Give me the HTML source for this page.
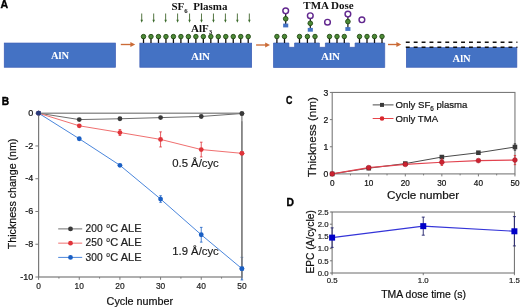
<!DOCTYPE html>
<html><head><meta charset="utf-8"><title>Figure</title>
<style>html,body{margin:0;padding:0;background:#fff;overflow:hidden}svg{display:block}</style>
</head><body>
<svg width="520" height="308" viewBox="0 0 520 308">
<rect width="520" height="308" fill="#fff"/>
<text x="0.4" y="7.8" style='font-family:"Liberation Sans", Arial, sans-serif;font-weight:bold;font-size:10.5px' fill="#000" stroke="#000" stroke-width="0.35">A</text>
<rect x="4.25" y="43.050000000000004" width="111.20" height="24.20" fill="#4472C4" stroke="#3A5BB5" stroke-width="0.7"/>
<text x="60" y="59.3" text-anchor="middle" style='font-family:"Liberation Serif", "Times New Roman", serif;font-weight:bold;font-size:10.5px' fill="#fff">AlN</text>
<line x1="120.8" y1="44.5" x2="131.7" y2="44.5" stroke="#CB6B36" stroke-width="1.35"/>
<path d="M130.39999999999998,42.1 L135.2,44.5 L130.39999999999998,46.9 Z" fill="#CB6B36"/>
<rect x="139.85" y="43.15" width="111.80" height="24.10" fill="#4472C4" stroke="#3A5BB5" stroke-width="0.7"/>
<text x="200.5" y="59.9" text-anchor="middle" style='font-family:"Liberation Serif", "Times New Roman", serif;font-weight:bold;font-size:11px' fill="#fff">AlN</text>
<line x1="143.5" y1="36.6" x2="143.5" y2="43" stroke="#111" stroke-width="1.3"/>
<circle cx="143.5" cy="36.6" r="2.25" fill="#4C8A36" stroke="#224A14" stroke-width="0.9"/>
<line x1="150.98" y1="36.6" x2="150.98" y2="43" stroke="#111" stroke-width="1.3"/>
<circle cx="150.98" cy="36.6" r="2.25" fill="#4C8A36" stroke="#224A14" stroke-width="0.9"/>
<line x1="158.46" y1="36.6" x2="158.46" y2="43" stroke="#111" stroke-width="1.3"/>
<circle cx="158.46" cy="36.6" r="2.25" fill="#4C8A36" stroke="#224A14" stroke-width="0.9"/>
<line x1="165.94" y1="36.6" x2="165.94" y2="43" stroke="#111" stroke-width="1.3"/>
<circle cx="165.94" cy="36.6" r="2.25" fill="#4C8A36" stroke="#224A14" stroke-width="0.9"/>
<line x1="173.42" y1="36.6" x2="173.42" y2="43" stroke="#111" stroke-width="1.3"/>
<circle cx="173.42" cy="36.6" r="2.25" fill="#4C8A36" stroke="#224A14" stroke-width="0.9"/>
<line x1="180.9" y1="36.6" x2="180.9" y2="43" stroke="#111" stroke-width="1.3"/>
<circle cx="180.9" cy="36.6" r="2.25" fill="#4C8A36" stroke="#224A14" stroke-width="0.9"/>
<line x1="188.38" y1="36.6" x2="188.38" y2="43" stroke="#111" stroke-width="1.3"/>
<circle cx="188.38" cy="36.6" r="2.25" fill="#4C8A36" stroke="#224A14" stroke-width="0.9"/>
<line x1="195.86" y1="36.6" x2="195.86" y2="43" stroke="#111" stroke-width="1.3"/>
<circle cx="195.86" cy="36.6" r="2.25" fill="#4C8A36" stroke="#224A14" stroke-width="0.9"/>
<line x1="203.34" y1="36.6" x2="203.34" y2="43" stroke="#111" stroke-width="1.3"/>
<circle cx="203.34" cy="36.6" r="2.25" fill="#4C8A36" stroke="#224A14" stroke-width="0.9"/>
<line x1="210.82" y1="36.6" x2="210.82" y2="43" stroke="#111" stroke-width="1.3"/>
<circle cx="210.82" cy="36.6" r="2.25" fill="#4C8A36" stroke="#224A14" stroke-width="0.9"/>
<line x1="218.3" y1="36.6" x2="218.3" y2="43" stroke="#111" stroke-width="1.3"/>
<circle cx="218.3" cy="36.6" r="2.25" fill="#4C8A36" stroke="#224A14" stroke-width="0.9"/>
<line x1="225.78" y1="36.6" x2="225.78" y2="43" stroke="#111" stroke-width="1.3"/>
<circle cx="225.78" cy="36.6" r="2.25" fill="#4C8A36" stroke="#224A14" stroke-width="0.9"/>
<line x1="233.26" y1="36.6" x2="233.26" y2="43" stroke="#111" stroke-width="1.3"/>
<circle cx="233.26" cy="36.6" r="2.25" fill="#4C8A36" stroke="#224A14" stroke-width="0.9"/>
<line x1="240.74" y1="36.6" x2="240.74" y2="43" stroke="#111" stroke-width="1.3"/>
<circle cx="240.74" cy="36.6" r="2.25" fill="#4C8A36" stroke="#224A14" stroke-width="0.9"/>
<line x1="248.22" y1="36.6" x2="248.22" y2="43" stroke="#111" stroke-width="1.3"/>
<circle cx="248.22" cy="36.6" r="2.25" fill="#4C8A36" stroke="#224A14" stroke-width="0.9"/>
<line x1="141.7" y1="13.5" x2="141.7" y2="20.6" stroke="#5d7d4c" stroke-width="1.05"/>
<path d="M140.45,19.8 L141.7,22.7 L142.95,19.8 Z" fill="#3a6a2a"/>
<line x1="153.66" y1="13.5" x2="153.66" y2="20.6" stroke="#5d7d4c" stroke-width="1.05"/>
<path d="M152.41,19.8 L153.66,22.7 L154.91,19.8 Z" fill="#3a6a2a"/>
<line x1="165.62" y1="13.5" x2="165.62" y2="20.6" stroke="#5d7d4c" stroke-width="1.05"/>
<path d="M164.37,19.8 L165.62,22.7 L166.87,19.8 Z" fill="#3a6a2a"/>
<line x1="177.58" y1="13.5" x2="177.58" y2="20.6" stroke="#5d7d4c" stroke-width="1.05"/>
<path d="M176.33,19.8 L177.58,22.7 L178.83,19.8 Z" fill="#3a6a2a"/>
<line x1="189.54" y1="13.5" x2="189.54" y2="20.6" stroke="#5d7d4c" stroke-width="1.05"/>
<path d="M188.29,19.8 L189.54,22.7 L190.79,19.8 Z" fill="#3a6a2a"/>
<line x1="201.5" y1="13.5" x2="201.5" y2="20.6" stroke="#5d7d4c" stroke-width="1.05"/>
<path d="M200.25,19.8 L201.5,22.7 L202.75,19.8 Z" fill="#3a6a2a"/>
<line x1="213.46" y1="13.5" x2="213.46" y2="20.6" stroke="#5d7d4c" stroke-width="1.05"/>
<path d="M212.21,19.8 L213.46,22.7 L214.71,19.8 Z" fill="#3a6a2a"/>
<line x1="225.42" y1="13.5" x2="225.42" y2="20.6" stroke="#5d7d4c" stroke-width="1.05"/>
<path d="M224.17,19.8 L225.42,22.7 L226.67,19.8 Z" fill="#3a6a2a"/>
<line x1="237.38" y1="13.5" x2="237.38" y2="20.6" stroke="#5d7d4c" stroke-width="1.05"/>
<path d="M236.13,19.8 L237.38,22.7 L238.63,19.8 Z" fill="#3a6a2a"/>
<line x1="249.34" y1="13.5" x2="249.34" y2="20.6" stroke="#5d7d4c" stroke-width="1.05"/>
<path d="M248.09,19.8 L249.34,22.7 L250.59,19.8 Z" fill="#3a6a2a"/>
<text x="171.4" y="9.6" style='font-family:"Liberation Serif", "Times New Roman", serif;font-weight:bold;font-size:11px' fill="#111">SF<tspan font-size="6.8" dy="3.0">6</tspan><tspan dy="-3.0" dx="5.6">Plasma</tspan></text>
<text x="191.0" y="31.6" style='font-family:"Liberation Serif", "Times New Roman", serif;font-weight:bold;font-size:11px' fill="#111">AlF<tspan font-size="6.8" dy="2">3</tspan></text>
<line x1="256.1" y1="45" x2="266.5" y2="45" stroke="#CB6B36" stroke-width="1.35"/>
<path d="M265.2,42.6 L270,45 L265.2,47.4 Z" fill="#CB6B36"/>
<path d="M273.5,43 L288.9,43 L288.9,47.3 L294.6,47.3 L294.6,43 L319.4,43 L319.4,47.3 L325.4,47.3 L325.4,43 L349.4,43 L349.4,47.3 L355.1,47.3 L355.1,43 L384.7,43 L384.7,67.5 L273.5,67.5 Z" fill="#4472C4" stroke="#3A5BB5" stroke-width="0.7" stroke-linejoin="miter"/>
<text x="330.6" y="59.9" text-anchor="middle" style='font-family:"Liberation Serif", "Times New Roman", serif;font-weight:bold;font-size:11px' fill="#fff">AlN</text>
<line x1="276.9" y1="36.5" x2="276.9" y2="43" stroke="#111" stroke-width="1.3"/>
<circle cx="276.9" cy="36.5" r="2.25" fill="#4C8A36" stroke="#224A14" stroke-width="0.9"/>
<line x1="284.5" y1="36.5" x2="284.5" y2="43" stroke="#111" stroke-width="1.3"/>
<circle cx="284.5" cy="36.5" r="2.25" fill="#4C8A36" stroke="#224A14" stroke-width="0.9"/>
<line x1="299.5" y1="36.5" x2="299.5" y2="43" stroke="#111" stroke-width="1.3"/>
<circle cx="299.5" cy="36.5" r="2.25" fill="#4C8A36" stroke="#224A14" stroke-width="0.9"/>
<line x1="307.4" y1="36.5" x2="307.4" y2="43" stroke="#111" stroke-width="1.3"/>
<circle cx="307.4" cy="36.5" r="2.25" fill="#4C8A36" stroke="#224A14" stroke-width="0.9"/>
<line x1="315.0" y1="36.5" x2="315.0" y2="43" stroke="#111" stroke-width="1.3"/>
<circle cx="315.0" cy="36.5" r="2.25" fill="#4C8A36" stroke="#224A14" stroke-width="0.9"/>
<line x1="329.5" y1="36.5" x2="329.5" y2="43" stroke="#111" stroke-width="1.3"/>
<circle cx="329.5" cy="36.5" r="2.25" fill="#4C8A36" stroke="#224A14" stroke-width="0.9"/>
<line x1="337.0" y1="36.5" x2="337.0" y2="43" stroke="#111" stroke-width="1.3"/>
<circle cx="337.0" cy="36.5" r="2.25" fill="#4C8A36" stroke="#224A14" stroke-width="0.9"/>
<line x1="344.3" y1="36.5" x2="344.3" y2="43" stroke="#111" stroke-width="1.3"/>
<circle cx="344.3" cy="36.5" r="2.25" fill="#4C8A36" stroke="#224A14" stroke-width="0.9"/>
<line x1="359.5" y1="36.5" x2="359.5" y2="43" stroke="#111" stroke-width="1.3"/>
<circle cx="359.5" cy="36.5" r="2.25" fill="#4C8A36" stroke="#224A14" stroke-width="0.9"/>
<line x1="367.0" y1="36.5" x2="367.0" y2="43" stroke="#111" stroke-width="1.3"/>
<circle cx="367.0" cy="36.5" r="2.25" fill="#4C8A36" stroke="#224A14" stroke-width="0.9"/>
<line x1="374.5" y1="36.5" x2="374.5" y2="43" stroke="#111" stroke-width="1.3"/>
<circle cx="374.5" cy="36.5" r="2.25" fill="#4C8A36" stroke="#224A14" stroke-width="0.9"/>
<line x1="382.0" y1="36.5" x2="382.0" y2="43" stroke="#111" stroke-width="1.3"/>
<circle cx="382.0" cy="36.5" r="2.25" fill="#4C8A36" stroke="#224A14" stroke-width="0.9"/>
<line x1="285.7" y1="10.8" x2="285.7" y2="25.5" stroke="#111" stroke-width="1.2"/>
<rect x="283.15" y="23.6" width="5.1" height="3.8" fill="#4472C4"/>
<circle cx="285.7" cy="18.8" r="2.35" fill="#4C8A36" stroke="#224A14" stroke-width="0.9"/>
<circle cx="285.7" cy="10.8" r="2.85" fill="#fff" stroke="#62288F" stroke-width="1.45"/>
<line x1="310.3" y1="15.7" x2="310.3" y2="29.8" stroke="#111" stroke-width="1.2"/>
<rect x="307.75" y="27.900000000000002" width="5.1" height="3.8" fill="#4472C4"/>
<circle cx="310.3" cy="23.3" r="2.35" fill="#4C8A36" stroke="#224A14" stroke-width="0.9"/>
<circle cx="310.3" cy="15.7" r="2.85" fill="#fff" stroke="#62288F" stroke-width="1.45"/>
<line x1="347.9" y1="14.1" x2="347.9" y2="29.0" stroke="#111" stroke-width="1.2"/>
<rect x="345.34999999999997" y="27.1" width="5.1" height="3.8" fill="#4472C4"/>
<circle cx="347.9" cy="21.6" r="2.35" fill="#4C8A36" stroke="#224A14" stroke-width="0.9"/>
<circle cx="347.9" cy="14.1" r="2.85" fill="#fff" stroke="#62288F" stroke-width="1.45"/>
<circle cx="327.5" cy="22.2" r="2.85" fill="#fff" stroke="#62288F" stroke-width="1.45"/>
<circle cx="361.9" cy="19.8" r="2.85" fill="#fff" stroke="#62288F" stroke-width="1.45"/>
<text x="303.3" y="8.7" style='font-family:"Liberation Serif", "Times New Roman", serif;font-weight:bold;font-size:11px' fill="#111">TMA Dose</text>
<line x1="388" y1="44.5" x2="397.7" y2="44.5" stroke="#CB6B36" stroke-width="1.35"/>
<path d="M396.4,42.1 L401.2,44.5 L396.4,46.9 Z" fill="#CB6B36"/>
<rect x="406.35" y="47.65" width="110.50" height="19.60" fill="#4472C4" stroke="#3A5BB5" stroke-width="0.7"/>
<text x="461.6" y="62.0" text-anchor="middle" style='font-family:"Liberation Serif", "Times New Roman", serif;font-weight:bold;font-size:10.5px' fill="#fff">AlN</text>
<line x1="405.8" y1="42.3" x2="517.4" y2="42.3" stroke="#111" stroke-width="1.5" stroke-dasharray="3.9,4"/>
<line x1="405.8" y1="47.2" x2="517.4" y2="47.2" stroke="#111" stroke-width="1.5" stroke-dasharray="3.9,4"/>
<text x="1.7" y="104.5" style='font-family:"Liberation Sans", Arial, sans-serif;font-weight:bold;font-size:10.2px' fill="#000" stroke="#000" stroke-width="0.4">B</text>
<line x1="35.4" y1="113.20" x2="38.6" y2="113.20" stroke="#7a7a7a" stroke-width="1"/>
<text x="33.3" y="115.80" text-anchor="end" style='font-family:"Liberation Sans", Arial, sans-serif;font-size:9px' fill="#111" stroke="#111" stroke-width="0.2">0</text>
<line x1="35.4" y1="145.96" x2="38.6" y2="145.96" stroke="#7a7a7a" stroke-width="1"/>
<text x="33.3" y="148.56" text-anchor="end" style='font-family:"Liberation Sans", Arial, sans-serif;font-size:9px' fill="#111" stroke="#111" stroke-width="0.2">-2</text>
<line x1="35.4" y1="178.72" x2="38.6" y2="178.72" stroke="#7a7a7a" stroke-width="1"/>
<text x="33.3" y="181.32" text-anchor="end" style='font-family:"Liberation Sans", Arial, sans-serif;font-size:9px' fill="#111" stroke="#111" stroke-width="0.2">-4</text>
<line x1="35.4" y1="211.48" x2="38.6" y2="211.48" stroke="#7a7a7a" stroke-width="1"/>
<text x="33.3" y="214.08" text-anchor="end" style='font-family:"Liberation Sans", Arial, sans-serif;font-size:9px' fill="#111" stroke="#111" stroke-width="0.2">-6</text>
<line x1="35.4" y1="244.24" x2="38.6" y2="244.24" stroke="#7a7a7a" stroke-width="1"/>
<text x="33.3" y="246.84" text-anchor="end" style='font-family:"Liberation Sans", Arial, sans-serif;font-size:9px' fill="#111" stroke="#111" stroke-width="0.2">-8</text>
<line x1="35.4" y1="277.00" x2="38.6" y2="277.00" stroke="#7a7a7a" stroke-width="1"/>
<text x="33.3" y="279.60" text-anchor="end" style='font-family:"Liberation Sans", Arial, sans-serif;font-size:9px' fill="#111" stroke="#111" stroke-width="0.2">-10</text>
<line x1="38.60" y1="277.0" x2="38.60" y2="279.80" stroke="#7a7a7a" stroke-width="1"/>
<text x="38.60" y="289.3" text-anchor="middle" style='font-family:"Liberation Sans", Arial, sans-serif;font-size:8.4px' fill="#222" stroke="#222" stroke-width="0.2">0</text>
<line x1="58.93" y1="277.0" x2="58.93" y2="278.60" stroke="#7a7a7a" stroke-width="1"/>
<line x1="79.26" y1="277.0" x2="79.26" y2="279.80" stroke="#7a7a7a" stroke-width="1"/>
<text x="79.26" y="289.3" text-anchor="middle" style='font-family:"Liberation Sans", Arial, sans-serif;font-size:8.4px' fill="#222" stroke="#222" stroke-width="0.2">10</text>
<line x1="99.59" y1="277.0" x2="99.59" y2="278.60" stroke="#7a7a7a" stroke-width="1"/>
<line x1="119.92" y1="277.0" x2="119.92" y2="279.80" stroke="#7a7a7a" stroke-width="1"/>
<text x="119.92" y="289.3" text-anchor="middle" style='font-family:"Liberation Sans", Arial, sans-serif;font-size:8.4px' fill="#222" stroke="#222" stroke-width="0.2">20</text>
<line x1="140.25" y1="277.0" x2="140.25" y2="278.60" stroke="#7a7a7a" stroke-width="1"/>
<line x1="160.58" y1="277.0" x2="160.58" y2="279.80" stroke="#7a7a7a" stroke-width="1"/>
<text x="160.58" y="289.3" text-anchor="middle" style='font-family:"Liberation Sans", Arial, sans-serif;font-size:8.4px' fill="#222" stroke="#222" stroke-width="0.2">30</text>
<line x1="180.91" y1="277.0" x2="180.91" y2="278.60" stroke="#7a7a7a" stroke-width="1"/>
<line x1="201.24" y1="277.0" x2="201.24" y2="279.80" stroke="#7a7a7a" stroke-width="1"/>
<text x="201.24" y="289.3" text-anchor="middle" style='font-family:"Liberation Sans", Arial, sans-serif;font-size:8.4px' fill="#222" stroke="#222" stroke-width="0.2">40</text>
<line x1="221.57" y1="277.0" x2="221.57" y2="278.60" stroke="#7a7a7a" stroke-width="1"/>
<line x1="241.90" y1="277.0" x2="241.90" y2="279.80" stroke="#7a7a7a" stroke-width="1"/>
<text x="241.90" y="289.3" text-anchor="middle" style='font-family:"Liberation Sans", Arial, sans-serif;font-size:8.4px' fill="#222" stroke="#222" stroke-width="0.2">50</text>
<text x="106.6" y="305.2" textLength="66.6" lengthAdjust="spacingAndGlyphs" style='font-family:"Liberation Sans", Arial, sans-serif;font-size:10.2px' fill="#111" stroke="#111" stroke-width="0.2">Cycle number</text>
<text transform="translate(16,249.2) rotate(-90)" textLength="110.6" lengthAdjust="spacingAndGlyphs" style='font-family:"Liberation Sans", Arial, sans-serif;font-size:10.4px' fill="#111" stroke="#111" stroke-width="0.2">Thickness change (nm)</text>
<polyline points="38.60,113.20 79.26,119.59 119.92,118.77 160.58,117.62 201.24,116.48 241.90,113.53" fill="none" stroke="#6e6e6e" stroke-width="1"/>
<polyline points="38.60,113.20 79.26,125.81 119.92,132.53 160.58,139.41 201.24,149.56 241.90,153.33" fill="none" stroke="#f07070" stroke-width="1"/>
<polyline points="38.60,113.20 79.26,138.75 119.92,165.29 160.58,199.03 201.24,234.74 241.90,268.65" fill="none" stroke="#4a86dc" stroke-width="1"/>
<circle cx="38.60" cy="113.20" r="2.4" fill="#3a3a3a"/>
<circle cx="79.26" cy="119.59" r="2.4" fill="#3a3a3a"/>
<circle cx="119.92" cy="118.77" r="2.4" fill="#3a3a3a"/>
<circle cx="160.58" cy="117.62" r="2.4" fill="#3a3a3a"/>
<circle cx="201.24" cy="116.48" r="2.4" fill="#3a3a3a"/>
<circle cx="241.90" cy="113.53" r="2.4" fill="#3a3a3a"/>
<circle cx="38.60" cy="113.20" r="2.4" fill="#e0343a"/>
<circle cx="79.26" cy="125.81" r="2.4" fill="#e0343a"/>
<path d="M119.92,129.58 V135.48 M118.62,129.58 H121.22 M118.62,135.48 H121.22" stroke="#e0343a" stroke-width="0.8" fill="none"/>
<circle cx="119.92" cy="132.53" r="2.4" fill="#e0343a"/>
<path d="M160.58,131.87 V146.94 M159.28,131.87 H161.88 M159.28,146.94 H161.88" stroke="#e0343a" stroke-width="0.8" fill="none"/>
<circle cx="160.58" cy="139.41" r="2.4" fill="#e0343a"/>
<path d="M201.24,142.19 V156.93 M199.94,142.19 H202.54 M199.94,156.93 H202.54" stroke="#e0343a" stroke-width="0.8" fill="none"/>
<circle cx="201.24" cy="149.56" r="2.4" fill="#e0343a"/>
<circle cx="241.90" cy="153.33" r="2.4" fill="#e0343a"/>
<circle cx="38.60" cy="113.20" r="2.4" fill="#1a5fc4"/>
<circle cx="79.26" cy="138.75" r="2.4" fill="#1a5fc4"/>
<circle cx="119.92" cy="165.29" r="2.4" fill="#1a5fc4"/>
<path d="M160.58,195.76 V202.31 M159.28,195.76 H161.88 M159.28,202.31 H161.88" stroke="#1a5fc4" stroke-width="0.8" fill="none"/>
<circle cx="160.58" cy="199.03" r="2.4" fill="#1a5fc4"/>
<path d="M201.24,227.37 V242.11 M199.94,227.37 H202.54 M199.94,242.11 H202.54" stroke="#1a5fc4" stroke-width="0.8" fill="none"/>
<circle cx="201.24" cy="234.74" r="2.4" fill="#1a5fc4"/>
<path d="M241.90,257.34 V279.95 M240.60,257.34 H243.20 M240.60,279.95 H243.20" stroke="#1a5fc4" stroke-width="0.8" fill="none"/>
<circle cx="241.90" cy="268.65" r="2.4" fill="#1a5fc4"/>
<rect x="38.6" y="113.2" width="203.30" height="163.80" fill="none" stroke="#7a7a7a" stroke-width="1.2"/>
<path d="M241.90,121.20 V277.60" stroke="#7a7a7a" stroke-width="1.2" fill="none"/>
<circle cx="241.90" cy="113.53" r="2.4" fill="#3a3a3a"/>
<circle cx="241.90" cy="153.33" r="2.4" fill="#e0343a"/>
<circle cx="241.90" cy="268.65" r="2.4" fill="#1a5fc4"/>
<circle cx="38.60" cy="113.20" r="2.4" fill="#2a3a7a"/>
<line x1="58.2" y1="228.90" x2="82.2" y2="228.90" stroke="#6e6e6e" stroke-width="1"/>
<circle cx="70.5" cy="228.90" r="2.4" fill="#3a3a3a"/>
<text x="85.6" y="232.10" style='font-family:"Liberation Sans", Arial, sans-serif;font-size:10.1px' fill="#222" stroke="#222" stroke-width="0.2"><tspan textLength="19.8" lengthAdjust="spacingAndGlyphs">200 </tspan><tspan x="106.3" font-size="6.6" dy="-4">o</tspan><tspan x="110.3" dy="4" textLength="31.2" lengthAdjust="spacingAndGlyphs">C ALE</tspan></text>
<line x1="58.2" y1="243.15" x2="82.2" y2="243.15" stroke="#f07070" stroke-width="1"/>
<circle cx="70.5" cy="243.15" r="2.4" fill="#e0343a"/>
<text x="85.6" y="246.35" style='font-family:"Liberation Sans", Arial, sans-serif;font-size:10.1px' fill="#222" stroke="#222" stroke-width="0.2"><tspan textLength="19.8" lengthAdjust="spacingAndGlyphs">250 </tspan><tspan x="106.3" font-size="6.6" dy="-4">o</tspan><tspan x="110.3" dy="4" textLength="31.2" lengthAdjust="spacingAndGlyphs">C ALE</tspan></text>
<line x1="58.2" y1="257.40" x2="82.2" y2="257.40" stroke="#4a86dc" stroke-width="1"/>
<circle cx="70.5" cy="257.40" r="2.4" fill="#1a5fc4"/>
<text x="85.6" y="260.60" style='font-family:"Liberation Sans", Arial, sans-serif;font-size:10.1px' fill="#222" stroke="#222" stroke-width="0.2"><tspan textLength="19.8" lengthAdjust="spacingAndGlyphs">300 </tspan><tspan x="106.3" font-size="6.6" dy="-4">o</tspan><tspan x="110.3" dy="4" textLength="31.2" lengthAdjust="spacingAndGlyphs">C ALE</tspan></text>
<text x="172.2" y="166.9" textLength="46.6" lengthAdjust="spacingAndGlyphs" style='font-family:"Liberation Sans", Arial, sans-serif;font-size:10.3px' fill="#1a1a1a" stroke="#1a1a1a" stroke-width="0.15">0.5 Å/cyc</text>
<text x="172.2" y="254.7" textLength="46.6" lengthAdjust="spacingAndGlyphs" style='font-family:"Liberation Sans", Arial, sans-serif;font-size:10.3px' fill="#1a1a1a" stroke="#1a1a1a" stroke-width="0.15">1.9 Å/cyc</text>
<text x="285.9" y="103.8" textLength="6.4" lengthAdjust="spacingAndGlyphs" style='font-family:"Liberation Sans", Arial, sans-serif;font-weight:bold;font-size:10.4px' fill="#000" stroke="#000" stroke-width="0.35">C</text>
<rect x="332.2" y="92.45" width="182.75" height="81.45" fill="none" stroke="#7a7a7a" stroke-width="1.1"/>
<line x1="329.9" y1="173.90" x2="332.2" y2="173.90" stroke="#7a7a7a" stroke-width="1"/>
<text x="328.20" y="177.00" text-anchor="end" style='font-family:"Liberation Sans", Arial, sans-serif;font-size:8.6px' fill="#111" stroke="#111" stroke-width="0.2">0</text>
<line x1="329.9" y1="146.75" x2="332.2" y2="146.75" stroke="#7a7a7a" stroke-width="1"/>
<text x="328.20" y="149.85" text-anchor="end" style='font-family:"Liberation Sans", Arial, sans-serif;font-size:8.6px' fill="#111" stroke="#111" stroke-width="0.2">1</text>
<line x1="329.9" y1="119.60" x2="332.2" y2="119.60" stroke="#7a7a7a" stroke-width="1"/>
<text x="328.20" y="122.70" text-anchor="end" style='font-family:"Liberation Sans", Arial, sans-serif;font-size:8.6px' fill="#111" stroke="#111" stroke-width="0.2">2</text>
<line x1="329.9" y1="92.45" x2="332.2" y2="92.45" stroke="#7a7a7a" stroke-width="1"/>
<text x="328.20" y="95.55" text-anchor="end" style='font-family:"Liberation Sans", Arial, sans-serif;font-size:8.6px' fill="#111" stroke="#111" stroke-width="0.2">3</text>
<line x1="332.20" y1="173.90" x2="332.20" y2="176.40" stroke="#7a7a7a" stroke-width="1"/>
<text x="332.20" y="185.6" text-anchor="middle" style='font-family:"Liberation Sans", Arial, sans-serif;font-size:8.2px' fill="#111" stroke="#111" stroke-width="0.2">0</text>
<line x1="350.47" y1="173.90" x2="350.47" y2="175.40" stroke="#7a7a7a" stroke-width="1"/>
<line x1="368.75" y1="173.90" x2="368.75" y2="176.40" stroke="#7a7a7a" stroke-width="1"/>
<text x="368.75" y="185.6" text-anchor="middle" style='font-family:"Liberation Sans", Arial, sans-serif;font-size:8.2px' fill="#111" stroke="#111" stroke-width="0.2">10</text>
<line x1="387.02" y1="173.90" x2="387.02" y2="175.40" stroke="#7a7a7a" stroke-width="1"/>
<line x1="405.30" y1="173.90" x2="405.30" y2="176.40" stroke="#7a7a7a" stroke-width="1"/>
<text x="405.30" y="185.6" text-anchor="middle" style='font-family:"Liberation Sans", Arial, sans-serif;font-size:8.2px' fill="#111" stroke="#111" stroke-width="0.2">20</text>
<line x1="423.57" y1="173.90" x2="423.57" y2="175.40" stroke="#7a7a7a" stroke-width="1"/>
<line x1="441.85" y1="173.90" x2="441.85" y2="176.40" stroke="#7a7a7a" stroke-width="1"/>
<text x="441.85" y="185.6" text-anchor="middle" style='font-family:"Liberation Sans", Arial, sans-serif;font-size:8.2px' fill="#111" stroke="#111" stroke-width="0.2">30</text>
<line x1="460.12" y1="173.90" x2="460.12" y2="175.40" stroke="#7a7a7a" stroke-width="1"/>
<line x1="478.40" y1="173.90" x2="478.40" y2="176.40" stroke="#7a7a7a" stroke-width="1"/>
<text x="478.40" y="185.6" text-anchor="middle" style='font-family:"Liberation Sans", Arial, sans-serif;font-size:8.2px' fill="#111" stroke="#111" stroke-width="0.2">40</text>
<line x1="496.67" y1="173.90" x2="496.67" y2="175.40" stroke="#7a7a7a" stroke-width="1"/>
<line x1="514.95" y1="173.90" x2="514.95" y2="176.40" stroke="#7a7a7a" stroke-width="1"/>
<text x="514.95" y="185.6" text-anchor="middle" style='font-family:"Liberation Sans", Arial, sans-serif;font-size:8.2px' fill="#111" stroke="#111" stroke-width="0.2">50</text>
<text x="387.0" y="199.4" textLength="72.2" lengthAdjust="spacingAndGlyphs" style='font-family:"Liberation Sans", Arial, sans-serif;font-size:11.4px' fill="#111" stroke="#111" stroke-width="0.2">Cycle number</text>
<text transform="translate(315.7,177.2) rotate(-90)" textLength="80.2" lengthAdjust="spacingAndGlyphs" style='font-family:"Liberation Sans", Arial, sans-serif;font-size:11.4px' fill="#111" stroke="#111" stroke-width="0.2">Thickness (nm)</text>
<polyline points="332.20,173.90 368.75,168.20 405.30,163.58 441.85,157.07 478.40,152.72 514.95,147.02" fill="none" stroke="#4a4a4a" stroke-width="1"/>
<polyline points="332.20,173.90 368.75,167.66 405.30,164.40 441.85,162.23 478.40,160.60 514.95,160.05" fill="none" stroke="#e2434f" stroke-width="1.2"/>
<rect x="329.90" y="171.60" width="4.6" height="4.6" fill="#3a3a3a"/>
<rect x="366.45" y="165.90" width="4.6" height="4.6" fill="#3a3a3a"/>
<rect x="403.00" y="161.28" width="4.6" height="4.6" fill="#3a3a3a"/>
<path d="M441.85,155.71 V158.42 M440.65,155.71 H443.05 M440.65,158.42 H443.05" stroke="#333" stroke-width="0.8" fill="none"/>
<rect x="439.55" y="154.77" width="4.6" height="4.6" fill="#3a3a3a"/>
<path d="M478.40,151.64 V153.81 M477.20,151.64 H479.60 M477.20,153.81 H479.60" stroke="#333" stroke-width="0.8" fill="none"/>
<rect x="476.10" y="150.42" width="4.6" height="4.6" fill="#3a3a3a"/>
<path d="M514.95,143.76 V150.28 M513.75,143.76 H516.15 M513.75,150.28 H516.15" stroke="#333" stroke-width="0.8" fill="none"/>
<rect x="512.65" y="144.72" width="4.6" height="4.6" fill="#3a3a3a"/>
<circle cx="332.20" cy="173.90" r="2.4" fill="#cc2230" stroke="#a01a28" stroke-width="0.5"/>
<path d="M368.75,166.57 V168.74 M367.55,166.57 H369.95 M367.55,168.74 H369.95" stroke="#d8282e" stroke-width="0.8" fill="none"/>
<circle cx="368.75" cy="167.66" r="2.4" fill="#cc2230" stroke="#a01a28" stroke-width="0.5"/>
<circle cx="405.30" cy="164.40" r="2.4" fill="#cc2230" stroke="#a01a28" stroke-width="0.5"/>
<path d="M441.85,158.97 V165.48 M440.65,158.97 H443.05 M440.65,165.48 H443.05" stroke="#d8282e" stroke-width="0.8" fill="none"/>
<circle cx="441.85" cy="162.23" r="2.4" fill="#cc2230" stroke="#a01a28" stroke-width="0.5"/>
<path d="M478.40,159.51 V161.68 M477.20,159.51 H479.60 M477.20,161.68 H479.60" stroke="#d8282e" stroke-width="0.8" fill="none"/>
<circle cx="478.40" cy="160.60" r="2.4" fill="#cc2230" stroke="#a01a28" stroke-width="0.5"/>
<path d="M514.95,155.44 V164.67 M513.75,155.44 H516.15 M513.75,164.67 H516.15" stroke="#d8282e" stroke-width="0.8" fill="none"/>
<circle cx="514.95" cy="160.05" r="2.4" fill="#cc2230" stroke="#a01a28" stroke-width="0.5"/>
<line x1="372.7" y1="104.9" x2="393.5" y2="104.9" stroke="#4a4a4a" stroke-width="1"/>
<rect x="380" y="102.9" width="4" height="4" fill="#3a3a3a"/>
<line x1="372.7" y1="118.5" x2="393.5" y2="118.5" stroke="#e8454a" stroke-width="1"/>
<circle cx="382" cy="118.5" r="2.3" fill="#d8282e"/>
<text x="395.6" y="108.3" style='font-family:"Liberation Sans", Arial, sans-serif;font-size:9.6px' fill="#111" stroke="#111" stroke-width="0.2">Only SF<tspan font-size="6.3" dy="2.2">6</tspan><tspan dy="-2.2"> plasma</tspan></text>
<text x="395.6" y="121.9" style='font-family:"Liberation Sans", Arial, sans-serif;font-size:9.6px' fill="#111" stroke="#111" stroke-width="0.2">Only TMA</text>
<text x="286.6" y="206.1" style='font-family:"Liberation Sans", Arial, sans-serif;font-weight:bold;font-size:10.3px' fill="#000" stroke="#000" stroke-width="0.35">D</text>
<rect x="332.1" y="212.00" width="182.30" height="61.00" fill="none" stroke="#6a6a6a" stroke-width="1"/>
<line x1="329.90" y1="273.00" x2="332.1" y2="273.00" stroke="#6a6a6a" stroke-width="0.9"/>
<text x="328.50" y="275.80" text-anchor="end" style='font-family:"Liberation Sans", Arial, sans-serif;font-size:7.8px' fill="#222" stroke="#222" stroke-width="0.2">0.0</text>
<line x1="329.90" y1="260.80" x2="332.1" y2="260.80" stroke="#6a6a6a" stroke-width="0.9"/>
<text x="328.50" y="263.60" text-anchor="end" style='font-family:"Liberation Sans", Arial, sans-serif;font-size:7.8px' fill="#222" stroke="#222" stroke-width="0.2">0.5</text>
<line x1="329.90" y1="248.60" x2="332.1" y2="248.60" stroke="#6a6a6a" stroke-width="0.9"/>
<text x="328.50" y="251.40" text-anchor="end" style='font-family:"Liberation Sans", Arial, sans-serif;font-size:7.8px' fill="#222" stroke="#222" stroke-width="0.2">1.0</text>
<line x1="329.90" y1="236.40" x2="332.1" y2="236.40" stroke="#6a6a6a" stroke-width="0.9"/>
<text x="328.50" y="239.20" text-anchor="end" style='font-family:"Liberation Sans", Arial, sans-serif;font-size:7.8px' fill="#222" stroke="#222" stroke-width="0.2">1.5</text>
<line x1="329.90" y1="224.20" x2="332.1" y2="224.20" stroke="#6a6a6a" stroke-width="0.9"/>
<text x="328.50" y="227.00" text-anchor="end" style='font-family:"Liberation Sans", Arial, sans-serif;font-size:7.8px' fill="#222" stroke="#222" stroke-width="0.2">2.0</text>
<line x1="329.90" y1="212.00" x2="332.1" y2="212.00" stroke="#6a6a6a" stroke-width="0.9"/>
<text x="328.50" y="214.80" text-anchor="end" style='font-family:"Liberation Sans", Arial, sans-serif;font-size:7.8px' fill="#222" stroke="#222" stroke-width="0.2">2.5</text>
<line x1="332.10" y1="273.00" x2="332.10" y2="275.20" stroke="#6a6a6a" stroke-width="0.9"/>
<text x="332.10" y="283.3" text-anchor="middle" style='font-family:"Liberation Sans", Arial, sans-serif;font-size:7.8px' fill="#222" stroke="#222" stroke-width="0.2">0.5</text>
<line x1="423.25" y1="273.00" x2="423.25" y2="275.20" stroke="#6a6a6a" stroke-width="0.9"/>
<text x="423.25" y="283.3" text-anchor="middle" style='font-family:"Liberation Sans", Arial, sans-serif;font-size:7.8px' fill="#222" stroke="#222" stroke-width="0.2">1.0</text>
<line x1="514.40" y1="273.00" x2="514.40" y2="275.20" stroke="#6a6a6a" stroke-width="0.9"/>
<text x="514.40" y="283.3" text-anchor="middle" style='font-family:"Liberation Sans", Arial, sans-serif;font-size:7.8px' fill="#222" stroke="#222" stroke-width="0.2">1.5</text>
<text x="381.2" y="297.6" textLength="84.8" lengthAdjust="spacingAndGlyphs" style='font-family:"Liberation Sans", Arial, sans-serif;font-size:10.3px' fill="#111" stroke="#111" stroke-width="0.2">TMA dose time (s)</text>
<text transform="translate(313.9,273.6) rotate(-90)" textLength="63.4" lengthAdjust="spacingAndGlyphs" style='font-family:"Liberation Sans", Arial, sans-serif;font-size:10.3px' fill="#111" stroke="#111" stroke-width="0.2">EPC (A/cycle)</text>
<polyline points="332.10,237.62 423.25,226.15 514.40,231.28" fill="none" stroke="#3434d8" stroke-width="1.1"/>
<path d="M332.10,227.86 V247.38 M330.60,227.86 H333.60 M330.60,247.38 H333.60" stroke="#24246e" stroke-width="0.9" fill="none"/>
<rect x="329.10" y="234.62" width="6" height="6" fill="#0000c8"/>
<path d="M423.25,217.12 V235.18 M421.75,217.12 H424.75 M421.75,235.18 H424.75" stroke="#24246e" stroke-width="0.9" fill="none"/>
<rect x="420.25" y="223.15" width="6" height="6" fill="#0000c8"/>
<path d="M514.40,216.64 V245.92 M512.90,216.64 H515.90 M512.90,245.92 H515.90" stroke="#24246e" stroke-width="0.9" fill="none"/>
<rect x="511.40" y="228.28" width="6" height="6" fill="#0000c8"/>
</svg>
</body></html>
